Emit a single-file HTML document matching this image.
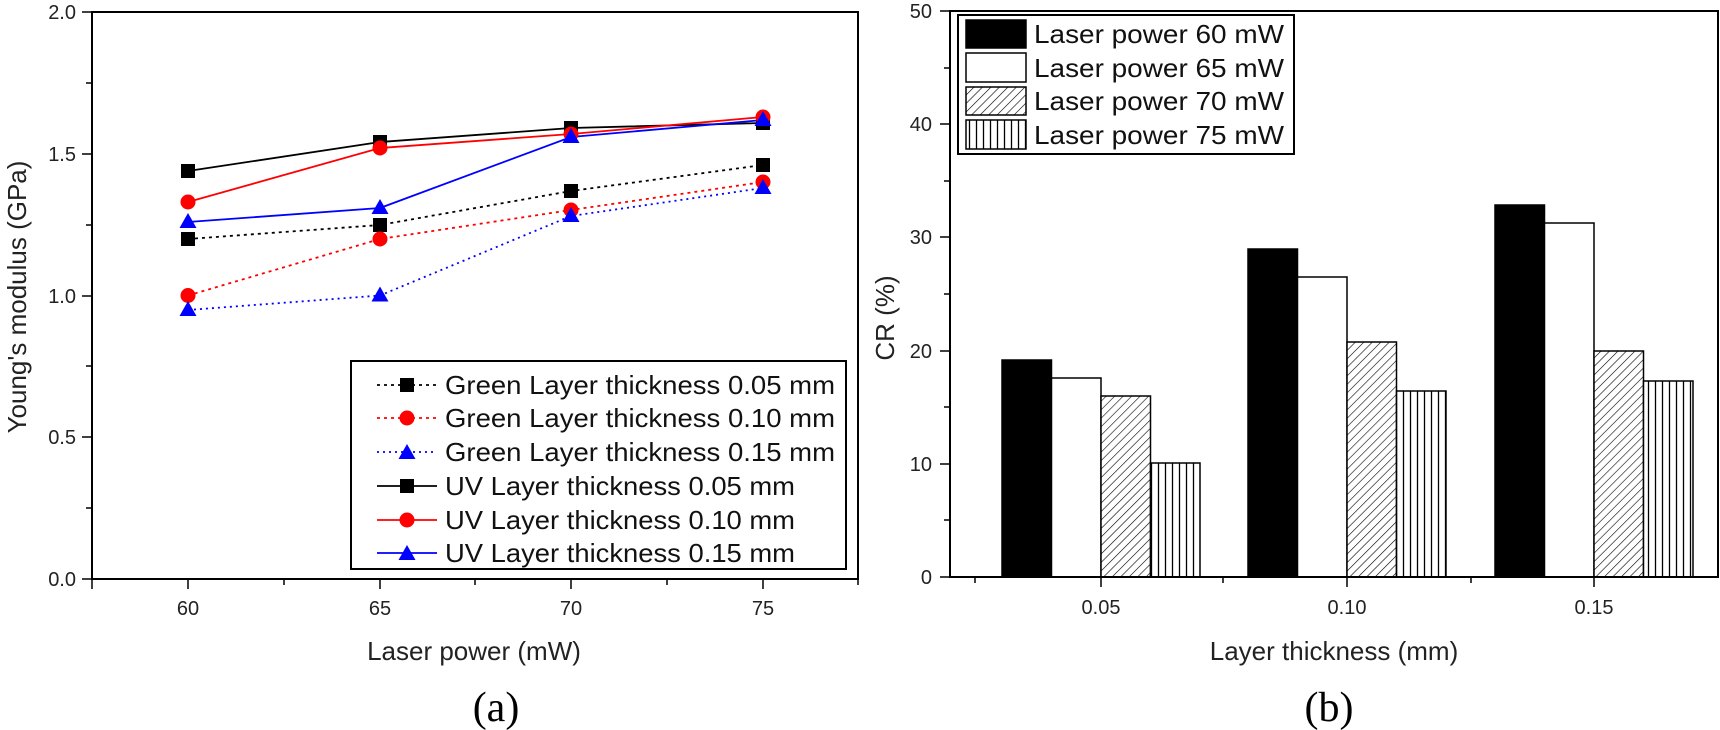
<!DOCTYPE html>
<html><head><meta charset="utf-8"><style>html,body{margin:0;padding:0;background:#fff}svg{display:block}</style></head>
<body>
<svg width="1720" height="730" viewBox="0 0 1720 730" xmlns="http://www.w3.org/2000/svg" font-family="Liberation Sans, Arial, sans-serif">
<defs>
<pattern id="diag" patternUnits="userSpaceOnUse" width="6" height="6" patternTransform="rotate(45)">
<rect width="6" height="6" fill="#fff"/><line x1="0" y1="0" x2="0" y2="6" stroke="#000" stroke-width="1.2"/></pattern>
<pattern id="vert" patternUnits="userSpaceOnUse" width="7" height="10">
<rect width="7" height="10" fill="#fff"/><line x1="3.5" y1="0" x2="3.5" y2="10" stroke="#000" stroke-width="1.3"/></pattern>
<g id="sq"><rect x="-7" y="-7" width="14" height="14"/></g>
<g id="ci"><circle r="7.5"/></g>
<g id="tr"><polygon points="0,-9 8.5,6 -8.5,6"/></g>
</defs>

<!-- LEFT PLOT -->
<rect x="92" y="12" width="766" height="567" fill="none" stroke="#000" stroke-width="2"/>
<g stroke="#000" stroke-width="1.5">
<line x1="82" y1="579" x2="92" y2="579"/><line x1="86" y1="508" x2="92" y2="508"/>
<line x1="82" y1="437" x2="92" y2="437"/><line x1="86" y1="366" x2="92" y2="366"/>
<line x1="82" y1="296" x2="92" y2="296"/><line x1="86" y1="225" x2="92" y2="225"/>
<line x1="82" y1="154" x2="92" y2="154"/><line x1="86" y1="83" x2="92" y2="83"/>
<line x1="82" y1="12" x2="92" y2="12"/>
<line x1="92" y1="579" x2="92" y2="589"/><line x1="188" y1="579" x2="188" y2="589"/>
<line x1="284" y1="579" x2="284" y2="585"/><line x1="380" y1="579" x2="380" y2="589"/>
<line x1="475" y1="579" x2="475" y2="585"/><line x1="571" y1="579" x2="571" y2="589"/>
<line x1="667" y1="579" x2="667" y2="585"/><line x1="763" y1="579" x2="763" y2="589"/>
<line x1="858" y1="579" x2="858" y2="585"/>
</g>
<g font-size="20" fill="#222" text-anchor="end">
<text x="76" y="586">0.0</text><text x="76" y="444">0.5</text><text x="76" y="303">1.0</text>
<text x="76" y="161">1.5</text><text x="76" y="19">2.0</text>
</g>
<g font-size="20" fill="#222" text-anchor="middle">
<text x="188" y="615">60</text><text x="380" y="615">65</text><text x="571" y="615">70</text><text x="763" y="615">75</text>
</g>
<text x="474" y="660" font-size="26" fill="#222" text-anchor="middle">Laser power (mW)</text>
<text transform="translate(26,297) rotate(-90)" font-size="26" fill="#222" text-anchor="middle">Young's modulus (GPa)</text>
<text x="496" y="721" font-size="42" font-family="Liberation Serif, serif" text-anchor="middle">(a)</text>

<g fill="none" stroke-width="1.8">
<polyline points="188,239 380,225 571,191 763,165" stroke="#000" stroke-dasharray="3,4"/>
<polyline points="188,295.5 380,239 571,210 763,182" stroke="#f00" stroke-dasharray="3,4"/>
<polyline points="188,310 380,295.5 571,216 763,188" stroke="#00f" stroke-dasharray="2,4"/>
<polyline points="188,171 380,142 571,128 763,123" stroke="#000"/>
<polyline points="188,202 380,148 571,134 763,117" stroke="#f00"/>
<polyline points="188,222 380,208 571,137 763,120" stroke="#00f"/>
</g>
<g fill="#000"><use href="#sq" x="188" y="239"/><use href="#sq" x="380" y="225"/><use href="#sq" x="571" y="191"/><use href="#sq" x="763" y="165"/>
<use href="#sq" x="188" y="171"/><use href="#sq" x="380" y="142"/><use href="#sq" x="571" y="128"/><use href="#sq" x="763" y="123"/></g>
<g fill="#f00"><use href="#ci" x="188" y="295.5"/><use href="#ci" x="380" y="239"/><use href="#ci" x="571" y="210"/><use href="#ci" x="763" y="182"/>
<use href="#ci" x="188" y="202"/><use href="#ci" x="380" y="148"/><use href="#ci" x="571" y="134"/><use href="#ci" x="763" y="117"/></g>
<g fill="#00f"><use href="#tr" x="188" y="310"/><use href="#tr" x="380" y="295.5"/><use href="#tr" x="571" y="216"/><use href="#tr" x="763" y="188"/>
<use href="#tr" x="188" y="222"/><use href="#tr" x="380" y="208"/><use href="#tr" x="571" y="137"/><use href="#tr" x="763" y="120"/></g>

<rect x="351" y="361" width="495" height="208" fill="#fff" stroke="#000" stroke-width="2"/>
<g stroke-width="1.8">
<line x1="377" y1="385" x2="437" y2="385" stroke="#000" stroke-dasharray="3,4"/>
<line x1="377" y1="418" x2="437" y2="418" stroke="#f00" stroke-dasharray="3,4"/>
<line x1="377" y1="452" x2="437" y2="452" stroke="#00f" stroke-dasharray="2,4"/>
<line x1="377" y1="486" x2="437" y2="486" stroke="#000"/>
<line x1="377" y1="520" x2="437" y2="520" stroke="#f00"/>
<line x1="377" y1="553" x2="437" y2="553" stroke="#00f"/>
</g>
<use href="#sq" x="407" y="385" fill="#000"/><use href="#ci" x="407" y="418" fill="#f00"/><use href="#tr" x="407" y="453" fill="#00f"/>
<use href="#sq" x="407" y="486" fill="#000"/><use href="#ci" x="407" y="520" fill="#f00"/><use href="#tr" x="407" y="554" fill="#00f"/>
<g font-size="26" fill="#111">
<text x="445" y="394" textLength="390" lengthAdjust="spacingAndGlyphs">Green Layer thickness 0.05 mm</text>
<text x="445" y="427" textLength="390" lengthAdjust="spacingAndGlyphs">Green Layer thickness 0.10 mm</text>
<text x="445" y="461" textLength="390" lengthAdjust="spacingAndGlyphs">Green Layer thickness 0.15 mm</text>
<text x="445" y="495" textLength="350" lengthAdjust="spacingAndGlyphs">UV Layer thickness 0.05 mm</text>
<text x="445" y="529" textLength="350" lengthAdjust="spacingAndGlyphs">UV Layer thickness 0.10 mm</text>
<text x="445" y="562" textLength="350" lengthAdjust="spacingAndGlyphs">UV Layer thickness 0.15 mm</text>
</g>

<!-- RIGHT PLOT -->
<g stroke="#000" stroke-width="1.5">
<rect x="1002" y="360" width="49.5" height="217" fill="#000"/>
<rect x="1051.5" y="378" width="49.5" height="199" fill="#fff"/>
<rect x="1101" y="396" width="49.5" height="181" fill="url(#diag)"/>
<rect x="1150.5" y="463" width="49.5" height="114" fill="url(#vert)"/>
<rect x="1248" y="249" width="49.5" height="328" fill="#000"/>
<rect x="1297.5" y="277" width="49.5" height="300" fill="#fff"/>
<rect x="1347" y="342" width="49.5" height="235" fill="url(#diag)"/>
<rect x="1396.5" y="391" width="49.5" height="186" fill="url(#vert)"/>
<rect x="1495" y="205" width="49.5" height="372" fill="#000"/>
<rect x="1544.5" y="223" width="49.5" height="354" fill="#fff"/>
<rect x="1594" y="351" width="49.5" height="226" fill="url(#diag)"/>
<rect x="1643.5" y="381" width="49.5" height="196" fill="url(#vert)"/>
</g>
<rect x="950" y="11" width="768" height="566" fill="none" stroke="#000" stroke-width="2"/>
<g stroke="#000" stroke-width="1.5">
<line x1="940" y1="577" x2="950" y2="577"/><line x1="944" y1="520" x2="950" y2="520"/>
<line x1="940" y1="464" x2="950" y2="464"/><line x1="944" y1="407" x2="950" y2="407"/>
<line x1="940" y1="351" x2="950" y2="351"/><line x1="944" y1="294" x2="950" y2="294"/>
<line x1="940" y1="237" x2="950" y2="237"/><line x1="944" y1="181" x2="950" y2="181"/>
<line x1="940" y1="124" x2="950" y2="124"/><line x1="944" y1="68" x2="950" y2="68"/>
<line x1="940" y1="11" x2="950" y2="11"/>
<line x1="975" y1="577" x2="975" y2="583"/><line x1="1101" y1="577" x2="1101" y2="587"/>
<line x1="1223" y1="577" x2="1223" y2="583"/><line x1="1347" y1="577" x2="1347" y2="587"/>
<line x1="1471" y1="577" x2="1471" y2="583"/><line x1="1594" y1="577" x2="1594" y2="587"/>
</g>
<g font-size="20" fill="#222" text-anchor="end">
<text x="932" y="584">0</text><text x="932" y="471">10</text><text x="932" y="358">20</text>
<text x="932" y="244">30</text><text x="932" y="131">40</text><text x="932" y="18">50</text>
</g>
<g font-size="20" fill="#222" text-anchor="middle">
<text x="1101" y="614">0.05</text><text x="1347" y="614">0.10</text><text x="1594" y="614">0.15</text>
</g>
<text x="1334" y="660" font-size="26" fill="#222" text-anchor="middle">Layer thickness (mm)</text>
<text transform="translate(894,318) rotate(-90)" font-size="26" fill="#222" text-anchor="middle">CR (%)</text>
<text x="1329" y="721" font-size="42" font-family="Liberation Serif, serif" text-anchor="middle">(b)</text>

<rect x="958" y="15" width="336" height="139" fill="#fff" stroke="#000" stroke-width="2"/>
<g stroke="#000" stroke-width="1.5">
<rect x="966" y="20" width="60" height="28" fill="#000"/>
<rect x="966" y="53" width="60" height="29" fill="#fff"/>
<rect x="966" y="87" width="60" height="28" fill="url(#diag)"/>
<rect x="966" y="120" width="60" height="29" fill="url(#vert)"/>
</g>
<g font-size="26" fill="#111">
<text x="1034" y="43" textLength="250" lengthAdjust="spacingAndGlyphs">Laser power 60 mW</text>
<text x="1034" y="77" textLength="250" lengthAdjust="spacingAndGlyphs">Laser power 65 mW</text>
<text x="1034" y="110" textLength="250" lengthAdjust="spacingAndGlyphs">Laser power 70 mW</text>
<text x="1034" y="144" textLength="250" lengthAdjust="spacingAndGlyphs">Laser power 75 mW</text>
</g>
</svg>
</body></html>
